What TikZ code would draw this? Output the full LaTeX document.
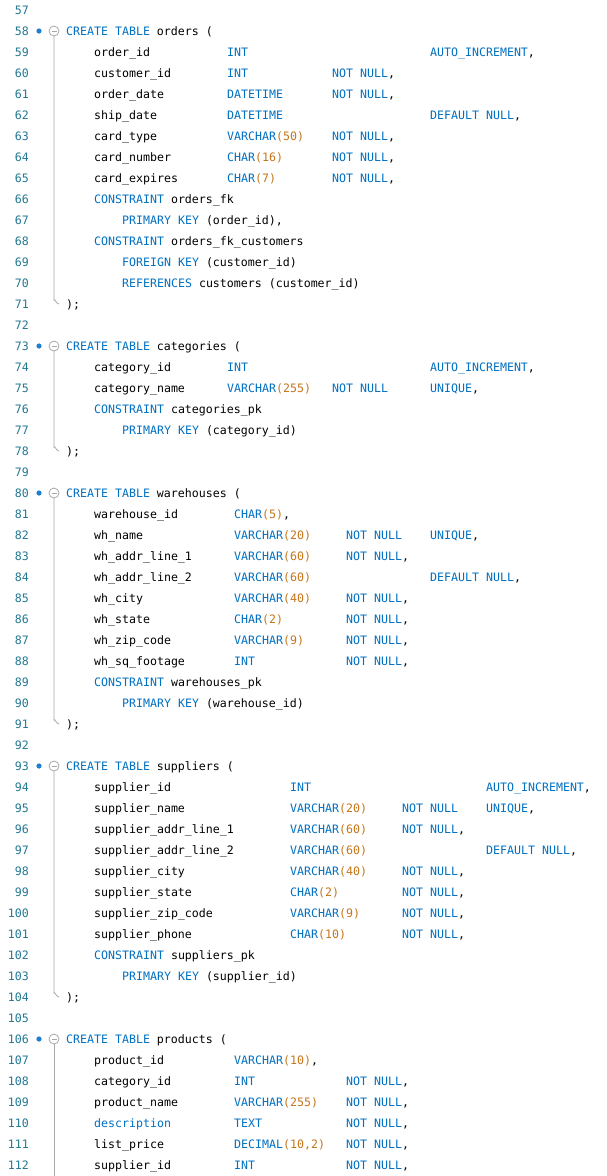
\documentclass[tikz,border=0pt]{standalone}
\usepackage{fontspec}
\newfontfamily\codefont{DejaVu Sans Mono}[Scale=1]
\definecolor{kw}{HTML}{0070C1}
\definecolor{num}{HTML}{C5761A}
\definecolor{lnc}{HTML}{237893}
\definecolor{gut}{HTML}{A8A8A8}
\definecolor{dotc}{HTML}{1E7FD0}
\newcommand\K[1]{\textcolor{kw}{#1}}
\newcommand\N[1]{\textcolor{num}{#1}}
\newcommand\cl[3]{\node[code] at ({66+7*#2},{14+21*(#1-57)}) {#3};}
\newcommand\lnum[1]{\node[lnumst] at (29,{14+21*(#1-57)}) {#1};}
\newcommand\fold[2]{%
  \fill[dotc] (39,{10+21*(#1-57)}) circle (2.6);
  \draw[gut,line width=0.8] (54,{10+21*(#1-57)}) circle (5);
  \draw[gut,line width=0.8] (51.5,{10+21*(#1-57)}) -- (56.5,{10+21*(#1-57)});
  \draw[gut,line width=0.8] (54,{15+21*(#1-57)}) -- (54,{6+21*(#2-57)}) to[out=90,in=180] (59,{10+21*(#2-57)});}
\begin{document}
\begin{tikzpicture}[x=1pt,y=-1pt,
  code/.style={anchor=base west,inner sep=0,font=\codefont\fontsize{11.6}{14}\selectfont},
  lnumst/.style={anchor=base east,inner sep=0,text=lnc,font=\codefont\fontsize{11.6}{14}\selectfont}]
\fill[white] (0,0) rectangle (607,1176);
\useasboundingbox (0,0) rectangle (607,1176);
\foreach \i in {57,...,112}{\lnum{\i}}
\fold{58}{71}\fold{73}{78}\fold{80}{91}\fold{93}{104}
\fill[dotc] (39,{10+21*49}) circle (2.6);
\draw[gut,line width=0.8] (54,{10+21*49}) circle (5);
\draw[gut,line width=0.8] (51.5,{10+21*49}) -- (56.5,{10+21*49});
\draw[gut,line width=0.8] (54,{15+21*49}) -- (54,1176);
% orders
\cl{58}{0}{\K{CREATE TABLE} orders (}
\cl{59}{4}{order\_id}\cl{59}{23}{\K{INT}}\cl{59}{52}{\K{AUTO\_INCREMENT},}
\cl{60}{4}{customer\_id}\cl{60}{23}{\K{INT}}\cl{60}{38}{\K{NOT NULL},}
\cl{61}{4}{order\_date}\cl{61}{23}{\K{DATETIME}}\cl{61}{38}{\K{NOT NULL},}
\cl{62}{4}{ship\_date}\cl{62}{23}{\K{DATETIME}}\cl{62}{52}{\K{DEFAULT NULL},}
\cl{63}{4}{card\_type}\cl{63}{23}{\K{VARCHAR}\N{(50)}}\cl{63}{38}{\K{NOT NULL},}
\cl{64}{4}{card\_number}\cl{64}{23}{\K{CHAR}\N{(16)}}\cl{64}{38}{\K{NOT NULL},}
\cl{65}{4}{card\_expires}\cl{65}{23}{\K{CHAR}\N{(7)}}\cl{65}{38}{\K{NOT NULL},}
\cl{66}{4}{\K{CONSTRAINT} orders\_fk}
\cl{67}{8}{\K{PRIMARY KEY} (order\_id),}
\cl{68}{4}{\K{CONSTRAINT} orders\_fk\_customers}
\cl{69}{8}{\K{FOREIGN KEY} (customer\_id)}
\cl{70}{8}{\K{REFERENCES} customers (customer\_id)}
\cl{71}{0}{);}
% categories
\cl{73}{0}{\K{CREATE TABLE} categories (}
\cl{74}{4}{category\_id}\cl{74}{23}{\K{INT}}\cl{74}{52}{\K{AUTO\_INCREMENT},}
\cl{75}{4}{category\_name}\cl{75}{23}{\K{VARCHAR}\N{(255)}}\cl{75}{38}{\K{NOT NULL}}\cl{75}{52}{\K{UNIQUE},}
\cl{76}{4}{\K{CONSTRAINT} categories\_pk}
\cl{77}{8}{\K{PRIMARY KEY} (category\_id)}
\cl{78}{0}{);}
% warehouses
\cl{80}{0}{\K{CREATE TABLE} warehouses (}
\cl{81}{4}{warehouse\_id}\cl{81}{24}{\K{CHAR}\N{(5)},}
\cl{82}{4}{wh\_name}\cl{82}{24}{\K{VARCHAR}\N{(20)}}\cl{82}{40}{\K{NOT NULL}}\cl{82}{52}{\K{UNIQUE},}
\cl{83}{4}{wh\_addr\_line\_1}\cl{83}{24}{\K{VARCHAR}\N{(60)}}\cl{83}{40}{\K{NOT NULL},}
\cl{84}{4}{wh\_addr\_line\_2}\cl{84}{24}{\K{VARCHAR}\N{(60)}}\cl{84}{52}{\K{DEFAULT NULL},}
\cl{85}{4}{wh\_city}\cl{85}{24}{\K{VARCHAR}\N{(40)}}\cl{85}{40}{\K{NOT NULL},}
\cl{86}{4}{wh\_state}\cl{86}{24}{\K{CHAR}\N{(2)}}\cl{86}{40}{\K{NOT NULL},}
\cl{87}{4}{wh\_zip\_code}\cl{87}{24}{\K{VARCHAR}\N{(9)}}\cl{87}{40}{\K{NOT NULL},}
\cl{88}{4}{wh\_sq\_footage}\cl{88}{24}{\K{INT}}\cl{88}{40}{\K{NOT NULL},}
\cl{89}{4}{\K{CONSTRAINT} warehouses\_pk}
\cl{90}{8}{\K{PRIMARY KEY} (warehouse\_id)}
\cl{91}{0}{);}
% suppliers
\cl{93}{0}{\K{CREATE TABLE} suppliers (}
\cl{94}{4}{supplier\_id}\cl{94}{32}{\K{INT}}\cl{94}{60}{\K{AUTO\_INCREMENT},}
\cl{95}{4}{supplier\_name}\cl{95}{32}{\K{VARCHAR}\N{(20)}}\cl{95}{48}{\K{NOT NULL}}\cl{95}{60}{\K{UNIQUE},}
\cl{96}{4}{supplier\_addr\_line\_1}\cl{96}{32}{\K{VARCHAR}\N{(60)}}\cl{96}{48}{\K{NOT NULL},}
\cl{97}{4}{supplier\_addr\_line\_2}\cl{97}{32}{\K{VARCHAR}\N{(60)}}\cl{97}{60}{\K{DEFAULT NULL},}
\cl{98}{4}{supplier\_city}\cl{98}{32}{\K{VARCHAR}\N{(40)}}\cl{98}{48}{\K{NOT NULL},}
\cl{99}{4}{supplier\_state}\cl{99}{32}{\K{CHAR}\N{(2)}}\cl{99}{48}{\K{NOT NULL},}
\cl{100}{4}{supplier\_zip\_code}\cl{100}{32}{\K{VARCHAR}\N{(9)}}\cl{100}{48}{\K{NOT NULL},}
\cl{101}{4}{supplier\_phone}\cl{101}{32}{\K{CHAR}\N{(10)}}\cl{101}{48}{\K{NOT NULL},}
\cl{102}{4}{\K{CONSTRAINT} suppliers\_pk}
\cl{103}{8}{\K{PRIMARY KEY} (supplier\_id)}
\cl{104}{0}{);}
% products
\cl{106}{0}{\K{CREATE TABLE} products (}
\cl{107}{4}{product\_id}\cl{107}{24}{\K{VARCHAR}\N{(10)},}
\cl{108}{4}{category\_id}\cl{108}{24}{\K{INT}}\cl{108}{40}{\K{NOT NULL},}
\cl{109}{4}{product\_name}\cl{109}{24}{\K{VARCHAR}\N{(255)}}\cl{109}{40}{\K{NOT NULL},}
\cl{110}{4}{\K{description}}\cl{110}{24}{\K{TEXT}}\cl{110}{40}{\K{NOT NULL},}
\cl{111}{4}{list\_price}\cl{111}{24}{\K{DECIMAL}\N{(10,2)}}\cl{111}{40}{\K{NOT NULL},}
\cl{112}{4}{supplier\_id}\cl{112}{24}{\K{INT}}\cl{112}{40}{\K{NOT NULL},}
\end{tikzpicture}
\end{document}
